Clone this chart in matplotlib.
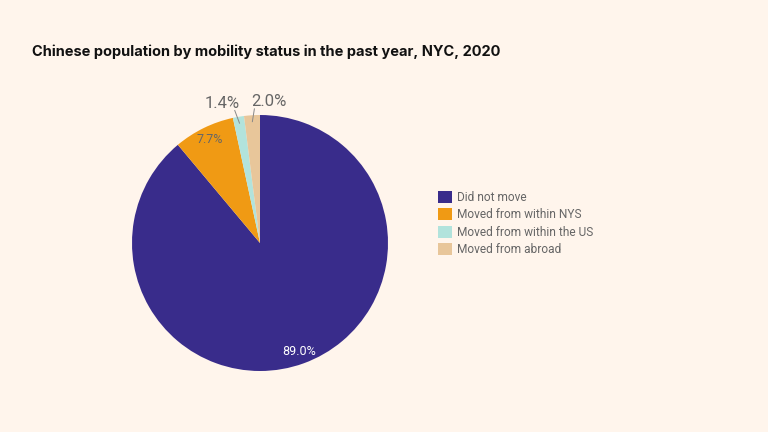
"""Pie chart: Chinese population by mobility status, NYC 2020."""

import matplotlib

matplotlib.use("Agg")
import matplotlib.pyplot as plt
import numpy as np
from matplotlib.patches import Patch

categories = ["Did not move", "Moved from within NYS",
              "Moved from within the US", "Moved from abroad"]
shares = [89.0, 7.7, 1.4, 2.0]
colors = ["#392C8B", "#F09A14", "#B2E3DC", "#E8C69A"]

BG = "#FFF5EC"
W, H = 768, 432

fig = plt.figure(figsize=(W / 100, H / 100), dpi=100, facecolor=BG)
fig.text(32 / W, 1 - 52 / H, "Chinese population by mobility status in the past year, NYC, 2020",
         fontsize=10.5, fontweight="bold", family="Inter", color="#111111", va="center")

# pie: centre (260, 243), radius 128 px
ax = fig.add_axes([132 / W, 1 - 371 / H, 256 / W, 256 / H])
ax.set_facecolor(BG)
wedges, _ = ax.pie(shares, colors=colors, startangle=90, counterclock=False,
                   radius=1.0, wedgeprops=dict(linewidth=0))
ax.set_xlim(-1, 1)
ax.set_ylim(-1, 1)
ax.set_aspect("equal")
ax.axis("off")

# nudges (axes units) for the small outside labels, left and right of the lines
nudge = {1.4: (-0.10, 0.055), 2.0: (0.11, 0.06)}

for w, val in zip(wedges, shares):
    mid = np.deg2rad((w.theta1 + w.theta2) / 2)
    txt = "%.1f%%" % val
    if val > 5:
        col = "white" if val > 50 else "#666666"
        r = 0.9
        ax.text(r * np.cos(mid), r * np.sin(mid), txt, ha="center", va="center",
                fontsize=9, family="Roboto", color=col)
    else:
        x0, y0 = 0.95 * np.cos(mid), 0.95 * np.sin(mid)
        x1, y1 = 1.05 * np.cos(mid), 1.05 * np.sin(mid)
        dx, dy = nudge[val]
        x1 += dx * 0.2
        ax.plot([x0, x1], [y0, y1], color="#888888", lw=0.7, clip_on=False)
        ax.text(x1 + dx, y1 + dy, txt, ha="center", va="center", fontsize=12,
                family="Roboto", color="#666666", clip_on=False)

handles = [Patch(facecolor=c, edgecolor="none") for c in colors]
fig.legend(handles, categories, loc="upper left",
           bbox_to_anchor=(433 / W, 1 - 186 / H), frameon=False,
           prop=dict(family="Roboto", size=8.6), labelcolor="#666666",
           handlelength=1.15, handleheight=1.15, handletextpad=0.45,
           labelspacing=0.38, borderaxespad=0)

fig.savefig("out.png", dpi=100, facecolor=BG)
